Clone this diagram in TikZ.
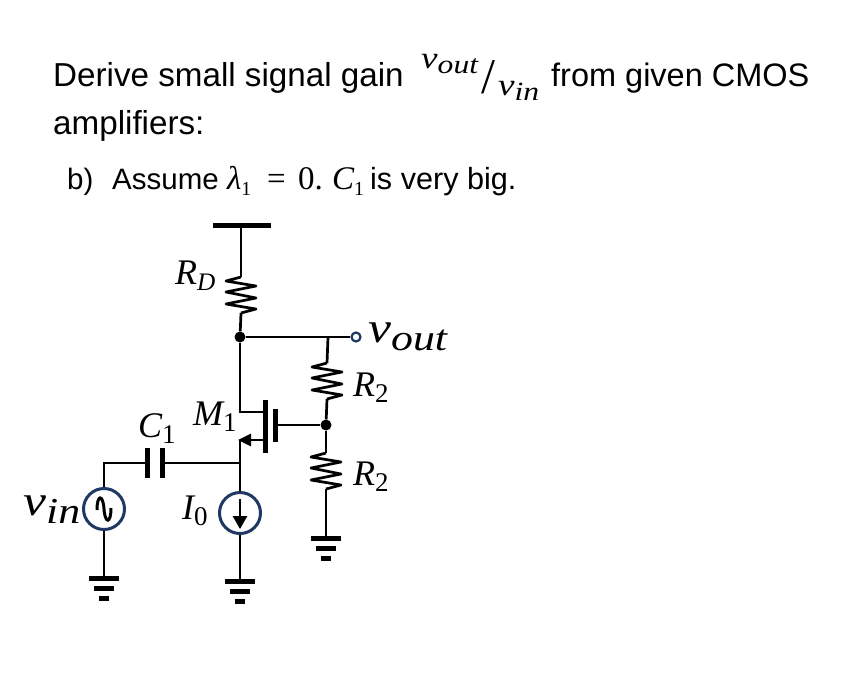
\documentclass[tikz,border=0pt]{standalone}
\usepackage{fontspec}
\setmainfont{Liberation Sans}
\newfontfamily\symfnt{Liberation Serif}
\newfontfamily\widefnt{Liberation Serif}[FakeStretch=1.2]
\usetikzlibrary{positioning,arrows.meta}

\newcommand\lbl[3][.75]{{\itshape #2}\raisebox{-.19em}{\scalebox{#1}{#3}}}
\definecolor{srcblue}{RGB}{31,56,100}

\tikzset{
  wire/.style={line width=2.7pt},
  plate/.style={line width=5pt},
  dot/.style={circle,fill=black,inner sep=0pt,minimum size=11pt},
  src/.style={circle,draw=srcblue,line width=3pt,fill=white,inner sep=0pt,minimum size=41pt},
  port/.style={circle,draw=srcblue,line width=2.2pt,fill=white,inner sep=0pt,minimum size=9pt},
  title/.style={anchor=base west,inner sep=0pt,font=\fontsize{33.2}{40}\selectfont},
  sub/.style={anchor=base west,inner sep=0pt,font=\fontsize{29.5}{36}\selectfont},
  lab/.style={anchor=base west,inner sep=0pt,font=\symfnt\fontsize{36}{40}\selectfont},
  vlab/.style={anchor=base west,inner sep=0pt,font=\widefnt\fontsize{43}{46}\selectfont},
  gnd/.pic={
    \draw[line width=5pt] (-15,0) -- (15,0);
    \draw[line width=5pt] (-10,10) -- (10,10);
    \draw[line width=5pt] (-5,20) -- (5,20);
  },
  res/.pic={
    \draw[wire,line join=round] (0,0) -- (-15,4) -- (15,9) -- (-15,15) -- (15,21) -- (-15,27) -- (15,32) -- (0,36);
  }
}

\begin{document}
\begin{tikzpicture}[x=1pt,y=-1pt]
  \useasboundingbox (0,0) rectangle (850,689);

  \node[title] (line1) at (53,86) {Derive small signal gain};
  \node[title,font=\widefnt\fontsize{31}{36}\selectfont] (ratio) at (421,86) {\raisebox{18pt}{\lbl[.85]{v}{\itshape out}}\hspace{3pt}\raisebox{-7pt}{\symfnt\fontsize{50}{50}\selectfont /}\hspace{3pt}\raisebox{-9pt}{\lbl[.85]{v}{\itshape in}}};
  \node[title,font=\fontsize{32.5}{40}\selectfont] (line1b) at (551,86) {from given CMOS};
  \node[title] (line2) at (53,134) {amplifiers:};
  \node[sub] (line3) at (67,189) {\makebox[45pt][l]{b)}\makebox[115pt][l]{Assume}\symfnt\fontsize{33}{36}\selectfont\makebox[40pt][l]{\lbl[.6]{λ}{1}}\makebox[31pt][l]{=}\makebox[34pt][l]{0.}\makebox[38pt][l]{\lbl[.6]{C}{1}}\sffamily\rmfamily\fontsize{30.6}{36}\selectfont is very big.};

  % supply and drain branch
  \coordinate (vdd) at (241,225);
  \coordinate (RDt) at (241,277);
  \coordinate (RDb) at (241,313);
  \node[dot] (nD) at (240,337) {};
  \coordinate (tap) at (328,337);
  \node[port] (out) at (356,337) {};
  \coordinate (mD) at (240,412);
  \coordinate (chD) at (265,412);
  \coordinate (chS) at (265,440);
  \coordinate (mT) at (238,440);
  \coordinate (mS) at (240,440);
  \coordinate (nS) at (240,463);

  % bias divider
  \coordinate (R1t) at (327,363);
  \coordinate (R1b) at (327,399);
  \node[dot] (nG) at (326,425) {};
  \coordinate (R2t) at (326,453);
  \coordinate (R2b) at (326,489);
  \coordinate (gndR) at (326,538);
  \coordinate (gate) at (275,425);

  % sources
  \node[src] (Vin) at (104,509) {};
  \node[src] (Io) at (240,513) {};
  \coordinate (gndV) at (104,578);
  \coordinate (gndI) at (240,581);
  \coordinate (vtop) at (104,463);
  \coordinate (capL) at (147,463);
  \coordinate (capR) at (162,463);

  \draw[plate] (213,225) -- (271,225);
  \draw[wire] (vdd) -- (RDt);
  \pic at (RDt) {res};
  \draw[wire] (RDb) -- (nD);
  \draw[wire] (nD) -- (out);
  \draw[wire] (tap) -- (R1t);
  \pic at (R1t) {res};
  \draw[wire] (R1b) -- (nG);
  \draw[wire] (nG) -- (R2t);
  \pic at (R2t) {res};
  \draw[wire] (R2b) -- (gndR);

  \draw[wire] (nD) -- (mD) -- (chD);
  \draw[plate] (265,400) -- (265,453);
  \draw[plate] (gate) ++(0,-16) -- ++(0,33);
  \draw[wire] (gate) -- (nG);
  \draw[wire,-{Triangle[length=13pt,width=12pt]}] (chS) -- (mT);
  \draw[wire] (mS) -- (nS) -- (Io);

  \draw[wire] (Vin) -- (vtop) -- (capL);
  \draw[plate] (capL) ++(0,-15) -- ++(0,30);
  \draw[plate] (capR) ++(0,-15) -- ++(0,30);
  \draw[wire] (capR) -- (nS);

  \draw[wire] (Vin) -- (gndV);
  \draw[wire] (Io) -- (gndI);
  \pic at (gndV) {gnd};
  \pic at (gndI) {gnd};
  \pic at (gndR) {gnd};

  \draw[line width=3pt,shift={(Vin)}] (-7,1) .. controls (-7,-15) and (-1,-15) .. (0,0) .. controls (1,15) and (7,15) .. (7,-1);
  \draw[wire,-{Triangle[length=13pt,width=14pt]}] (240,499) -- (240,529);

  \node[lab] (lRD) at (175,284) {\lbl[.7]{R}{\itshape D}};
  \node[vlab] (lvout) at (368,342) {\lbl[.85]{v}{\itshape out}};
  \node[lab] (lR2a) at (353,396) {\lbl{R}{2}};
  \node[lab] (lR2b) at (353,485) {\lbl{R}{2}};
  \node[lab] (lM) at (193,425) {\lbl{M}{1}};
  \node[lab] (lC) at (138,437) {\lbl{C}{1}};
  \node[vlab] (lvin) at (23,515) {\lbl[.85]{v}{\itshape in}};
  \node[lab] (lIo) at (182,519) {\lbl{I}{0}};
\end{tikzpicture}
\end{document}
